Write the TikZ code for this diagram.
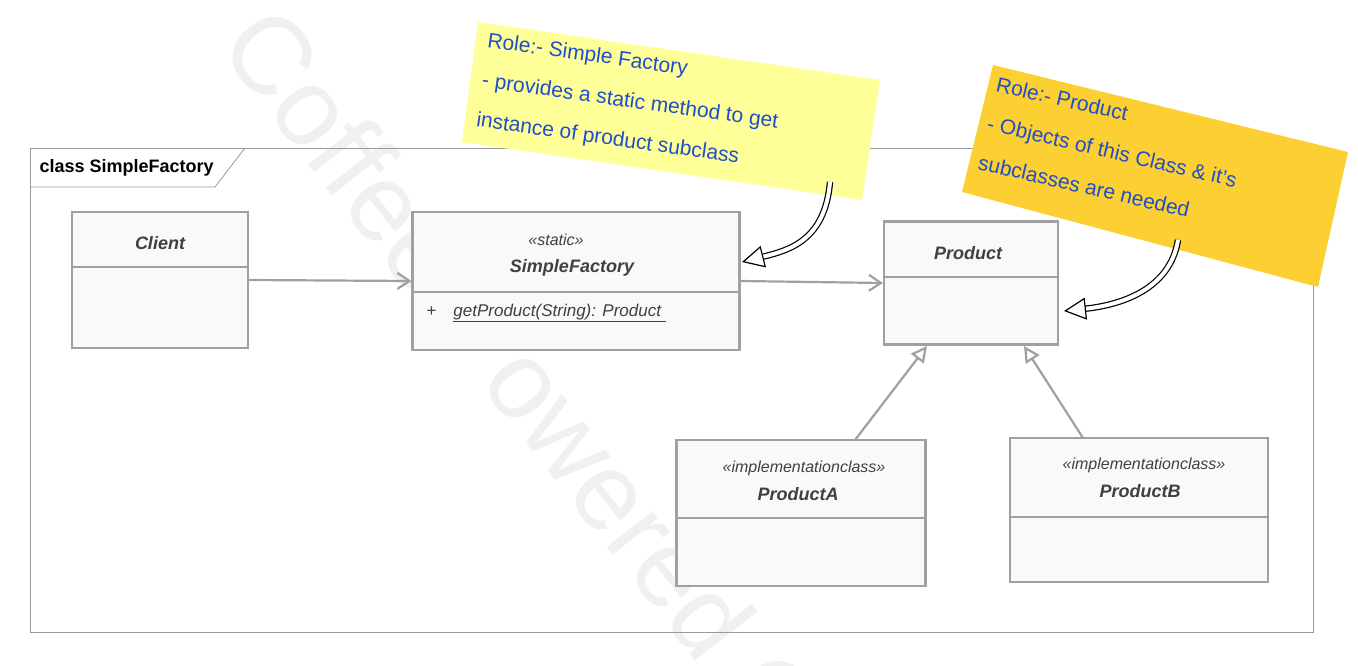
\documentclass[tikz,border=0pt]{standalone}
\usepackage{fontspec}
\setmainfont{Liberation Sans}
\usetikzlibrary{arrows.meta}
\definecolor{boxgray}{HTML}{A0A0A4}
\definecolor{notey}{HTML}{FFFF99}
\definecolor{noteo}{HTML}{FCCF33}
\definecolor{pen}{HTML}{1F4FC8}
\tikzset{
  umlbox/.style={draw=boxgray, line width=2.2pt, fill=gray!5, inner sep=0pt},
  link/.style={draw=boxgray, line width=2.2pt, -{Straight Barb[length=12pt,width=16pt]}},
  inherit/.style={draw=boxgray, line width=2.2pt, -{Triangle[open,length=16pt,width=16pt,fill=white]}},
  callout/.style={double=white, draw=black, line width=1.2pt, double distance=4pt, -{Triangle[open,length=22pt,width=22pt,fill=white]}},
  note/.style={font=\fontsize{21}{40}\selectfont, text=pen, align=left}
}
\begin{document}
\begin{tikzpicture}[x=1pt,y=-1pt]
  \useasboundingbox (0,0) rectangle (1358,666);
  % Wasserzeichen
  \node[rotate=-52, text=gray!12, font=\fontsize{110}{110}\selectfont, anchor=west] (wm) at (245,20) {Coffee Powered C};
  % Rahmen
  \draw[gray!80, line width=0.8pt] (30,148) rectangle (1313,632);
  \draw[gray!80, line width=0.8pt] (30,187) -- (215,187) -- (245,148);
  \node[font=\fontsize{18}{20}\selectfont\bfseries, anchor=west] (frame) at (36,168) {class SimpleFactory};
  % Klassen
  \node[umlbox, minimum width=176, minimum height=136] (client) at (160,280) {};
  \draw[boxgray, line width=2.2pt] (72,267) -- (248,267);
  \node[font=\fontsize{18}{20}\selectfont\bfseries\itshape, text=black!75] (clientname) at (160,243) {Client};

  \node[umlbox, minimum width=327, minimum height=138] (factory) at (576,281) {};
  \draw[boxgray, line width=2.2pt] (413,292) -- (740,292);
  \node[font=\fontsize{16}{18}\selectfont\itshape, text=black!75] (fstereo) at (556,240) {«static»};
  \node[font=\fontsize{18}{20}\selectfont\bfseries\itshape, text=black!75] (fname) at (572,268) {SimpleFactory};
  \node[font=\fontsize{17}{19}\selectfont, text=black!75, anchor=west] (fop) at (423,313) {+\quad\underline{\itshape getProduct(String): Product\ }};

  \node[umlbox, minimum width=174, minimum height=123] (product) at (971,283) {};
  \draw[boxgray, line width=2.2pt] (884,277) -- (1058,277);
  \node[font=\fontsize{18}{20}\selectfont\bfseries\itshape, text=black!75] (pname) at (968,253) {Product};

  \node[umlbox, minimum width=249, minimum height=146] (proda) at (801,513) {};
  \draw[boxgray, line width=2.2pt] (677,518) -- (926,518);
  \node[font=\fontsize{16}{18}\selectfont\itshape, text=black!75] (astereo) at (804,468) {«implementationclass»};
  \node[font=\fontsize{18}{20}\selectfont\bfseries\itshape, text=black!75] (aname) at (798,494) {ProductA};

  \node[umlbox, minimum width=258, minimum height=144] (prodb) at (1139,510) {};
  \draw[boxgray, line width=2.2pt] (1010,517) -- (1268,517);
  \node[font=\fontsize{16}{18}\selectfont\itshape, text=black!75] (bstereo) at (1144,465) {«implementationclass»};
  \node[font=\fontsize{18}{20}\selectfont\bfseries\itshape, text=black!75] (bname) at (1140,491) {ProductB};

  % Verbindungen
  \draw[link] (client.east) -- (factory.west);
  \draw[link] (factory.east) -- (product.west);
  \coordinate (atop) at (855,440);
  \coordinate (btop) at (1083,438);
  \draw[inherit] (atop) -- (927,346);
  \draw[inherit] (btop) -- (1024,346);

  % Notizen
  \fill[notey] (478,22) -- (880,80) -- (862,200) -- (462,142) -- cycle;
  \node[note, rotate=-8, anchor=north west] (sfnote) at (486,28) {Role:- Simple Factory\\- provides a static method to get\\instance of product subclass};
  \fill[noteo] (993,65) -- (1348,152) -- (1318,287) -- (962,192) -- cycle;
  \node[note, rotate=-13, anchor=north west] (pnote) at (996,72) {Role:- Product\\- Objects of this Class \& it's\\subclasses are needed};

  \coordinate (sftail) at (830,182);
  \coordinate (ptail) at (1178,240);
  \draw[callout] (sftail) .. controls (825,240) and (790,250) .. (742,262);
  \draw[callout] (ptail) .. controls (1170,290) and (1120,305) .. (1064,311);
\end{tikzpicture}
\end{document}
